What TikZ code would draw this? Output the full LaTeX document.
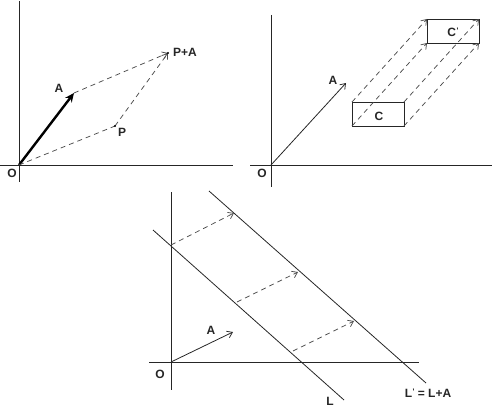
\documentclass[tikz,border=0pt]{standalone}
\usepackage{fontspec}
\setmainfont{Liberation Sans}
\usetikzlibrary{arrows.meta}
\tikzset{
  axis/.style={line width=1pt, black!85},
  thin line/.style={line width=0.8pt, black!85},
  dash line/.style={line width=0.75pt, black!70, dash pattern=on 5pt off 4pt},
  vtip/.style={-{Straight Barb[length=5pt,width=7pt,line width=0.75pt]}},
  lbl/.style={font=\fontsize{12}{14}\selectfont\bfseries, text=black!85, inner sep=0pt},
  box/.style={line width=0.9pt, black!85}
}
\begin{document}
\begin{tikzpicture}[x=1pt,y=-1pt]
\useasboundingbox (0,0) rectangle (494,414);
% ---------- panel 1 ----------
\coordinate (O1) at (19,165);
\coordinate (A1) at (74,93);
\coordinate (P1) at (115,126);
\coordinate (PA1) at (168,53);
\draw[axis] (19,1) -- (19,182);
\draw[axis] (0,165) -- (233,165);
\draw[line width=2.4pt, black, -{Stealth[length=9pt,width=8pt]}] (O1) -- (A1);
\draw[dash line] (O1) -- (P1);
\draw[dash line, vtip] (A1) -- (PA1);
\draw[dash line, vtip] (P1) -- (PA1);
\fill[black] (P1) circle (1.2pt);
\fill[black] (PA1) circle (1.2pt);
\node[lbl] (o1) at (12,173) {O};
\node[lbl] (a1) at (59,88) {A};
\node[lbl] (p1) at (122,132) {P};
\node[lbl] (pa1) at (185,52) {P+A};
% ---------- panel 2 ----------
\coordinate (O2) at (271,165);
\coordinate (A2) at (346,83);
\draw[axis] (271,15) -- (271,187);
\draw[axis] (250,165) -- (492,165);
\draw[thin line, vtip] (O2) -- (A2);
\node[lbl] (a2) at (333,80) {A};
\node[lbl] (o2) at (262,173) {O};
\coordinate (c1) at (352,102);
\coordinate (c2) at (404,102);
\coordinate (c3) at (404,126);
\coordinate (c4) at (352,126);
\coordinate (d1) at (427,19);
\coordinate (d2) at (479,19);
\coordinate (d3) at (479,43);
\coordinate (d4) at (427,43);
\draw[box] (c1) -- (c2) -- (c3) -- (c4) -- cycle;
\draw[box] (d1) -- (d2) -- (d3) -- (d4) -- cycle;
\draw[dash line, vtip] (c1) -- (d1);
\draw[dash line, vtip] (c2) -- (d2);
\draw[dash line, vtip] (c3) -- (d3);
\draw[dash line, vtip] (c4) -- (d4);
\node[lbl] (cl) at (379,116) {C};
\node[lbl] (cpl) at (453,32) {C\kern0.5pt\raisebox{0.5ex}{\fontsize{8}{9}\selectfont\textquotesingle}};
% ---------- panel 3 ----------
\coordinate (O3) at (171,362);
\coordinate (A3) at (233,332);
\draw[axis] (171,192) -- (171,390);
\draw[axis] (149,362) -- (419,362);
\draw[thin line, vtip] (O3) -- (A3);
\node[lbl] (o3) at (160,374) {O};
\node[lbl] (a3) at (211,330) {A};
\coordinate (Ls) at (153,230);
\coordinate (Le) at (344,400);
\coordinate (Ms) at (209,191);
\coordinate (Me) at (426,383);
\draw[thin line] (Ls) -- (Le);
\draw[thin line] (Ms) -- (Me);
\coordinate (q1) at (171,245);
\coordinate (r1) at (234,213);
\coordinate (q2) at (237,302);
\coordinate (r2) at (298,272);
\coordinate (q3) at (293,351);
\coordinate (r3) at (354,321);
\draw[dash line, vtip] (q1) -- (r1);
\draw[dash line, vtip] (q2) -- (r2);
\draw[dash line, vtip] (q3) -- (r3);
\node[lbl] (ll) at (330,401) {L};
\node[lbl] (lpl) at (428,393) {L\kern0.5pt\raisebox{0.5ex}{\fontsize{8}{9}\selectfont\textquotesingle} = L+A};
\end{tikzpicture}
\end{document}
